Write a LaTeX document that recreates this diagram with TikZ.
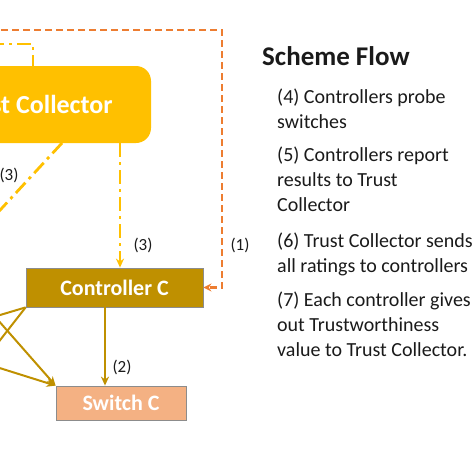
\documentclass[tikz,border=0pt]{standalone}
\usepackage{fontspec}
\setmainfont{Carlito}
\usetikzlibrary{arrows.meta,calc,positioning}
\definecolor{tcgold}{HTML}{FFC000}
\definecolor{ctrlgold}{HTML}{BF9000}
\definecolor{swsalmon}{HTML}{F4B183}
\definecolor{probeorange}{HTML}{ED7D31}
\definecolor{boxedge}{HTML}{8C8C8C}
\definecolor{flowtext}{HTML}{1A1A1A}

\begin{document}
\begin{tikzpicture}[x=1pt, y=-1pt,
    collector/.style={fill=tcgold, rounded corners=15pt, inner sep=0pt,
        minimum width=233pt, minimum height=77pt, text=white,
        font=\fontsize{26}{30}\selectfont\bfseries},
    ctrlbox/.style={draw=boxedge, line width=0.8pt, fill=ctrlgold, inner sep=0pt,
        minimum width=177pt, minimum height=39pt, text=white,
        font=\fontsize{22}{26}\selectfont\bfseries},
    switchbox/.style={draw=boxedge, line width=0.8pt, fill=swsalmon, inner sep=0pt,
        minimum width=130pt, minimum height=34pt, text=white,
        font=\fontsize{22}{26}\selectfont\bfseries},
    ctrlline/.style={draw=ctrlgold, line width=2pt},
    ctrlarrow/.style={ctrlline, -{Stealth[length=9pt, width=8pt]}},
    ratingline/.style={draw=tcgold, line width=2.8pt,
        dash pattern=on 14pt off 5pt on 3pt off 5pt},
    probeline/.style={draw=probeorange, line width=2.8pt,
        dash pattern=on 7pt off 4pt},
    steplabel/.style={text=flowtext, font=\fontsize{17}{20}\selectfont},
    flowitem/.style={text=flowtext, anchor=base west, align=left,
        inner sep=0pt, font=\fontsize{20}{25}\selectfont}]

    \useasboundingbox (0,0) rectangle (474,474);
    \clip (0,0) rectangle (474,474);

    % Boxes
    \node[collector] (tc) at (34.5,104.5) {Trust Collector};
    \node[ctrlbox] (cc) at (114.5,287.5) {Controller C};
    \node[switchbox] (sc) at (121,403) {Switch C};

    % (1) probe path, dashed orange
    \coordinate (probeleft) at (-10,30);
    \coordinate (probecorner) at (222,30);
    \draw[probeline, -{Stealth[length=8pt, width=8pt]}]
        (probeleft) -- (probecorner) -- (probecorner |- cc.east) -- (cc.east);
    \node[steplabel] (lab1) at (240,245) {(1)};

    % Trust Collector links, dash-dot gold
    \coordinate (toptc) at (33,44);
    \draw[ratingline] (-10,44) -- (toptc) -- (toptc |- tc.north);
    \coordinate (downtc) at (120,0);
    \draw[ratingline, -{Stealth[length=9pt, width=8pt]}]
        (tc.south -| downtc) -- (cc.north -| downtc);
    \node[steplabel] (lab3) at (143,245) {(3)};
    \coordinate (slantstart) at (62,143);
    \draw[ratingline] (slantstart) -- (-10,221);
    \node[steplabel] (lab3b) at (9,175) {(3)};

    % Controller to switch links
    \coordinate (downcc) at (105,0);
    \draw[ctrlarrow] (cc.south -| downcc) -- (sc.north -| downcc);
    \node[steplabel] (lab2) at (122,367) {(2)};
    \draw[ctrlline] (cc.south west) -- (-10,318);
    \draw[ctrlline] (cc.south west) -- (-10,353);
    \draw[ctrlarrow] (-10,311) -- (sc.north west);
    \draw[ctrlarrow] (-10,365) -- (sc.north west);

    % Scheme flow text (base = last line)
    \node[text=flowtext, anchor=base west, inner sep=0pt,
        font=\fontsize{27}{32}\selectfont\bfseries] (title) at (262,65) {Scheme Flow};
    \node[flowitem] (step4) at (277,128) {(4) Controllers probe\\switches};
    \node[flowitem] (step5) at (277,211) {(5) Controllers report\\results to Trust\\Collector};
    \node[flowitem] (step6) at (277,272) {(6) Trust Collector sends\\all ratings to controllers};
    \node[flowitem] (step7) at (277,356) {(7) Each controller gives\\out Trustworthiness\\value to Trust Collector.};
\end{tikzpicture}
\end{document}
